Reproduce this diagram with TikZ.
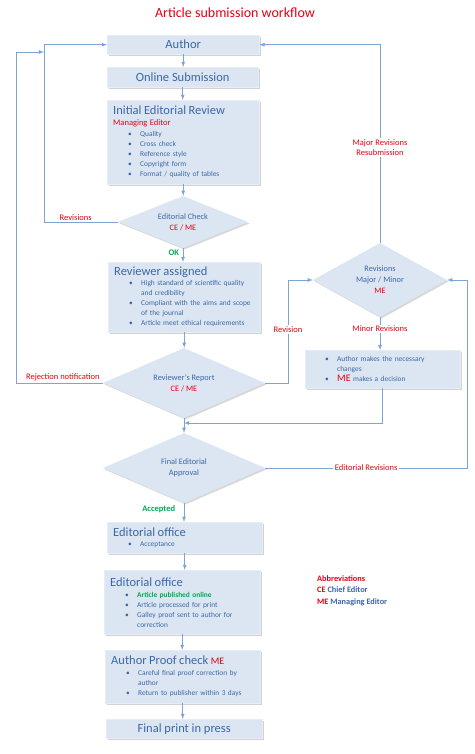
\documentclass[tikz,border=0pt]{standalone}
\usepackage{fontspec}
\setmainfont{Carlito}
\usetikzlibrary{shapes.geometric,shadows,arrows}

\definecolor{boxblue}{RGB}{220,230,242}
\definecolor{txtblue}{RGB}{58,103,168}
\definecolor{lineblue}{RGB}{125,164,212}
\definecolor{txtred}{RGB}{228,0,20}
\definecolor{txtgreen}{RGB}{0,168,80}

\newcommand{\bul}[1]{\makebox[27pt][l]{\hspace{15pt}\textbullet}{#1}}
\newcommand{\cnt}[1]{\hspace*{27pt}{#1}}
\newcommand{\ttl}{\fontsize{12.5}{14}\selectfont}

\begin{document}
\begin{tikzpicture}[x=1pt, y=-1pt, >=latex,
  box/.style = {fill=boxblue, draw=boxblue!70!white, drop shadow={shadow xshift=1.5pt, shadow yshift=-1.5pt, opacity=.35},
    text=txtblue, anchor=north west, inner xsep=6pt, inner ysep=0pt, align=left, font=\fontsize{7.4}{10}\selectfont},
  head/.style = {box, align=center, font=\ttl},
  dec/.style = {diamond, aspect=2, fill=boxblue, drop shadow={shadow xshift=1.5pt, shadow yshift=-1.5pt, opacity=.3},
    inner sep=0pt, text=txtblue, align=center, font=\fontsize{8.3}{11}\selectfont},
  link/.style = {draw=lineblue, line width=0.8pt, ->},
  lbl/.style = {text=txtred, font=\fontsize{8.5}{10}\selectfont, inner sep=1.5pt}]

\fill[white] (0,0) rectangle (474,754);
\useasboundingbox (0,0) rectangle (474,754);

\node[text=txtred, font=\fontsize{14}{16}\selectfont] (t) at (235,13) {Article submission workflow};

\node[head, minimum width=152pt, minimum height=19pt] (1) at (107,35) {Author};
\node[head, minimum width=151pt, minimum height=20pt] (2) at (107,67) {Online Submission};
\node[box, minimum width=152pt, minimum height=84pt, text width=140pt] (3) at (107,100)
  {{\ttl Initial Editorial Review}\\[1pt]
   {\fontsize{8.5}{10}\selectfont\color{txtred}Managing Editor}\\[1pt]
   \bul{Quality}\\ \bul{Cross check}\\ \bul{Reference style}\\ \bul{Copyright form}\\ \bul{Format / quality of tables}};
\node[dec, minimum width=130pt, minimum height=52pt] (4) at (183,222) {Editorial Check\\{\color{txtred}CE / ME}};
\node[box, minimum width=152pt, minimum height=70pt, text width=140pt] (5) at (108,262)
  {{\ttl Reviewer assigned}\\
   \bul{High standard of scientific quality}\\ \cnt{and credibility}\\
   \bul{Compliant with the aims and scope}\\ \cnt{of the journal}\\
   \bul{Article meet ethical requirements}};
\node[dec, minimum width=162pt, minimum height=70pt] (6) at (184,383) {Reviewer’s Report\\{\color{txtred}CE / ME}};
\node[dec, minimum width=134pt, minimum height=74pt] (7) at (380,280) {Revisions\\Major / Minor\\{\color{txtred}ME}};
\node[box, minimum width=155pt, minimum height=38pt, text width=145pt, inner xsep=5pt] (8) at (305,350)
  {\bul{Author makes the necessary}\\ \cnt{changes}\\
   \bul{{\fontsize{10}{10}\selectfont\color{txtred}ME} makes a decision}};
\node[dec, minimum width=162pt, minimum height=70pt] (9) at (184,468) {Final Editorial\\Approval};
\node[box, minimum width=155pt, minimum height=31pt, text width=143pt] (10) at (107,522)
  {{\ttl Editorial office}\\ \bul{Acceptance}};
\node[box, minimum width=156pt, minimum height=64pt, text width=144pt] (11) at (104,570)
  {{\ttl Editorial office}\\[1pt]
   \bul{\color{txtgreen}\bfseries Article published online}\\ \bul{Article processed for print}\\
   \bul{Galley proof sent to author for}\\ \cnt{correction}};
\node[box, minimum width=155pt, minimum height=53pt, text width=143pt] (12) at (105,650)
  {{\ttl Author Proof check {\fontsize{10}{10}\selectfont\color{txtred}ME}}\\[1pt]
   \bul{Careful final proof correction by}\\ \cnt{author}\\ \bul{Return to publisher within 3 days}};
\node[head, minimum width=156pt, minimum height=19pt] (13) at (106,719) {Final print in press};

\node[anchor=north west, align=left, inner sep=0pt, font=\fontsize{8.3}{11.5}\selectfont\bfseries] (abbr) at (317,575)
  {{\color{txtred}Abbreviations}\\ {\color{txtred}CE} {\color{txtblue}Chief Editor}\\ {\color{txtred}ME} {\color{txtblue}Managing Editor}};

% rails of the feedback loops
\coordinate (r1) at (44,0);
\coordinate (r2) at (16,0);
\coordinate (r3) at (288,0);
\coordinate (r4) at (467,0);
\coordinate (j1) at (44,52);
\coordinate (j2) at (184,423);

\draw[link] (1) -- (1 |- 2.north);
\draw[link] (2) -- (2 |- 3.north);
\draw[link] (3) -- (3 |- 4.north);
\draw[link] (4) -- node[lbl, pos=.3, left, xshift=-2pt, text=txtgreen, font=\fontsize{8.5}{10}\selectfont\bfseries] {OK} (4 |- 5.north);
\draw[link] (5) -- (5 |- 6.north);
\draw[link] (6) -- (9);
\draw[link] (9) -- node[lbl, pos=.3, left, xshift=-7pt, text=txtgreen, font=\fontsize{8.5}{10}\selectfont\bfseries] {Accepted} (9 |- 10.north);
\draw[link] (10) -- (10 |- 11.north);
\draw[link] (11) -- (11 |- 12.north);
\draw[link] (12) -- (12 |- 13.north);

\draw[link] (4.west) -- node[lbl, pos=.57, above] {Revisions} (4.west -| r1) |- (1.west);
\draw[link] (6.west) -- node[lbl, pos=.46, above] {Rejection notification} (6.west -| r2) |- (j1);
\draw[link] (6.east) -- (6.east -| r3) |- node[lbl, pos=.26, fill=white] {Revision} (7.west);
\draw[link] (7.north) |- node[lbl, pos=.24, fill=white, align=center] {Major Revisions\\Resubmission} (1.east);
\draw[link] (7.south) -- node[lbl, pos=.36, fill=white] {Minor Revisions} (7.south |- 8.north);
\draw[link] (8.south) |- (j2);
\draw[link] (9.east) -- node[lbl, pos=.5, fill=white] {Editorial Revisions} (9.east -| r4) |- (7.east);

\end{tikzpicture}
\end{document}
